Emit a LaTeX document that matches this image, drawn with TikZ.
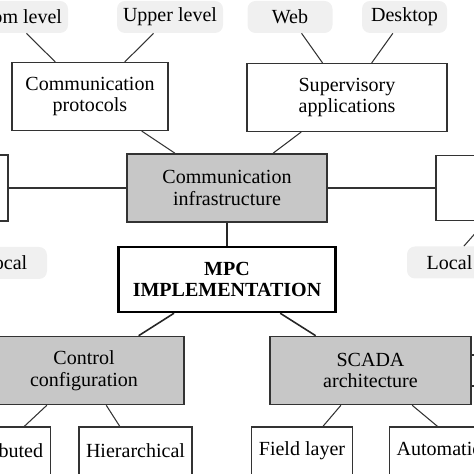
\documentclass[tikz,border=0pt]{standalone}
\usepackage{fontspec}
\setmainfont{Liberation Serif}
\usepackage{tikz}

\begin{document}
\begin{tikzpicture}[
    every node/.style={font=\fontsize{11.4}{12.2}\selectfont, align=center},
    plainbox/.style={draw=black!80, line width=0.6pt, fill=white, minimum height=1.36cm},
    graybox/.style={plainbox, fill=black!22, line width=0.9pt},
    leafbox/.style={plainbox, minimum height=0.96cm, inner xsep=0.14cm},
    pill/.style={fill=black!6, rounded corners=0.16cm, minimum width=1.7cm, minimum height=0.64cm, inner xsep=0.12cm},
    link/.style={draw=black!80, line width=0.6pt},
    boldlink/.style={draw=black!85, line width=0.9pt}]
    \useasboundingbox (0,0) rectangle (9.48,9.48);
    \clip (0,0) rectangle (9.48,9.48);

    % top row
    \node[pill] (botlvl) at (0.2, 9.14) {Bottom level};
    \node[pill] (upplvl) at (3.4, 9.14) {Upper level};
    \node[pill] (web) at (5.8, 9.14) {Web};
    \node[pill] (desktop) at (8.09, 9.14) {Desktop};

    \node[plainbox, minimum width=3.12cm] (protocols) at (1.8, 7.55) {Communication\\protocols};
    \node[plainbox, minimum width=4cm] (supervis) at (6.94, 7.53) {Supervisory\\applications};

    % middle
    \node[graybox, minimum width=4cm] (infra) at (4.54, 5.72) {Communication\\infrastructure};
    \node[plainbox, minimum width=3.12cm, minimum height=1.32cm] (leftbox) at (-1.4, 5.72) {};
    \node[plainbox, minimum width=3.16cm, minimum height=1.3cm] (rightbox) at (10.3, 5.72) {};
    \node[pill] (locL) at (0.09, 4.22) {Local};
    \node[pill] (locR) at (8.99, 4.23) {Local};

    \node[plainbox, line width=1.4pt, draw=black, minimum width=4.34cm, minimum height=1.3cm,
          font=\fontsize{11.4}{12.4}\selectfont\bfseries] (mpc) at (4.54, 3.89) {MPC\\IMPLEMENTATION};

    % bottom
    \node[graybox, minimum width=4cm] (ctrl) at (1.68, 2.07) {Control\\configuration};
    \node[graybox, minimum width=4.02cm] (scada) at (7.41, 2.07) {SCADA\\architecture};
    \coordinate (scadaup) at (9.7, 2.38);
    \coordinate (scadalow) at (9.7, 1.76);

    \node[leafbox] (distrib) at (-0.04, 0.46) {Distributed};
    \node[leafbox] (hier) at (2.71, 0.46) {Hierarchical};
    \node[leafbox] (field) at (6.04, 0.46) {Field layer};
    \node[leafbox] (autom) at (9.34, 0.46) {Automation layer};

    % connectors
    \draw[link] (botlvl) -- (protocols);
    \draw[link] (upplvl) -- (protocols);
    \draw[link] (web) -- (supervis);
    \draw[link] (desktop) -- (supervis);
    \draw[link] (protocols) -- (infra);
    \draw[link] (supervis) -- (infra);
    \draw[link] (leftbox) -- (infra);
    \draw[link] (infra) -- (rightbox);
    \draw[link] (locR) -- (rightbox);
    \draw[boldlink] (infra) -- (mpc);
    \draw[boldlink] (mpc) -- (ctrl);
    \draw[boldlink] (mpc) -- (scada);
    \draw[link] (ctrl) -- (distrib);
    \draw[link] (ctrl) -- (hier);
    \draw[link] (scada) -- (field);
    \draw[link] (scada) -- (autom);
    \draw[link] (scada.east |- scadaup) -- (scadaup);
    \draw[link] (scada.east |- scadalow) -- (scadalow);
\end{tikzpicture}
\end{document}
